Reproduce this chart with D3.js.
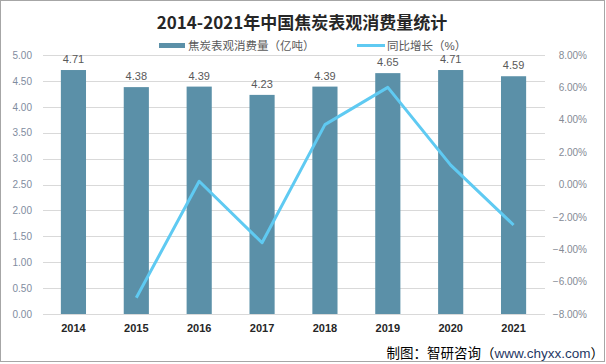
<!DOCTYPE html>
<html><head><meta charset="utf-8">
<script src="https://cdn.jsdelivr.net/npm/d3@7/dist/d3.min.js"></script>
<style>
html,body{margin:0;padding:0;background:#fff;}
svg{display:block;}
</style></head>
<body>
<svg id="chart" width="606" height="364"></svg>
<script>
const years = ["2014","2015","2016","2017","2018","2019","2020","2021"];
const consumption = [4.71,4.38,4.39,4.23,4.39,4.65,4.71,4.59];
const growth = [null,-7.0,0.2,-3.6,3.7,6.0,1.2,-2.5];
const leftTicks = [0,0.5,1,1.5,2,2.5,3,3.5,4,4.5,5];
const rightTicks = [-8,-6,-4,-2,0,2,4,6,8];
const title = "2014-2021年中国焦炭表观消费量统计";
const legendNames = ["焦炭表观消费量（亿吨）","同比增长（%）"];

const barColor = "#5b90a8", lineColor = "#5fcaf2";
const cjk = "'Liberation Sans','Noto Sans CJK SC',sans-serif";
const svg = d3.select("#chart");

svg.append("rect").attr("x",0.5).attr("y",0.5).attr("width",604).attr("height",361)
  .attr("fill","#fff").attr("stroke","#a6a6a6").attr("stroke-width",1);

const x = d3.scaleBand().domain(years).range([42,545]).paddingInner(0.6).paddingOuter(0.3);
const yL = d3.scaleLinear().domain([0,5]).range([314,55]);
const yR = d3.scaleLinear().domain([-8,8]).range([314,55]);

// gridlines
svg.append("g").selectAll("line").data(leftTicks).join("line")
  .attr("x1",43).attr("x2",545)
  .attr("y1",d=>Math.round(yL(d))+0.5).attr("y2",d=>Math.round(yL(d))+0.5)
  .attr("stroke","#d9d9d9").attr("stroke-width",1);

// left axis
const axL = svg.append("g").attr("transform","translate(32,0)")
  .call(d3.axisLeft(yL).tickValues(leftTicks).tickFormat(d3.format(".2f")).tickSize(0).tickPadding(0));
axL.select(".domain").remove();
axL.selectAll("text").attr("fill","#7f8ca0").style("font-family","'Liberation Sans',sans-serif").style("font-size","10px");

// right axis
const axR = svg.append("g").attr("transform","translate(587,0)")
  .call(d3.axisLeft(yR).tickValues(rightTicks).tickFormat(d=>d3.format(".2f")(d)+"%").tickSize(0).tickPadding(0));
axR.select(".domain").remove();
axR.selectAll("text").attr("fill","#858b95").style("font-family","'Liberation Sans',sans-serif").style("font-size","10px");

// x axis
const axX = svg.append("g").attr("transform","translate(0,318)")
  .call(d3.axisBottom(x).tickSize(0).tickPadding(6));
axX.select(".domain").remove();
axX.selectAll("text").attr("fill","#262626").style("font-family","'Liberation Sans',sans-serif")
  .style("font-size","11px").style("font-weight","bold");

// bars
svg.append("g").selectAll("rect").data(years).join("rect")
  .attr("x",d=>x(d)).attr("width",x.bandwidth())
  .attr("y",(d,i)=>yL(consumption[i])).attr("height",(d,i)=>yL(0)-yL(consumption[i]))
  .attr("fill",barColor);

// bar labels
svg.append("g").selectAll("text").data(years).join("text")
  .attr("x",d=>x(d)+x.bandwidth()/2).attr("y",(d,i)=>yL(consumption[i])-7)
  .attr("text-anchor","middle").attr("fill","#595959")
  .style("font-family","'Liberation Sans',sans-serif").style("font-size","11px")
  .text((d,i)=>consumption[i].toFixed(2));

// line
const pts = years.map((d,i)=>({d,v:growth[i]})).filter(p=>p.v!==null);
svg.append("path").datum(pts)
  .attr("d",d3.line().x(p=>x(p.d)+x.bandwidth()/2).y(p=>yR(p.v)))
  .attr("fill","none").attr("stroke",lineColor).attr("stroke-width",3).attr("stroke-linejoin","round");

// title
svg.append("text").attr("x",302).attr("y",29).attr("text-anchor","middle")
  .attr("fill","#262626").style("font-family","'Noto Sans CJK SC',sans-serif")
  .style("font-size","17px").style("font-weight","bold").text(title);

// legend
svg.append("rect").attr("x",159).attr("y",43).attr("width",26).attr("height",5).attr("fill",barColor);
svg.append("text").attr("x",188).attr("y",50).attr("fill","#595959")
  .style("font-family",cjk).style("font-size","11.5px").text(legendNames[0]);
svg.append("line").attr("x1",357).attr("x2",385).attr("y1",45.5).attr("y2",45.5)
  .attr("stroke",lineColor).attr("stroke-width",3);
svg.append("text").attr("x",387).attr("y",50).attr("fill","#595959")
  .style("font-family",cjk).style("font-size","11.5px").text(legendNames[1]);

// footer
const ft = svg.append("text").attr("x",604).attr("y",358).attr("text-anchor","end")
  .style("font-family","'Noto Sans CJK SC',sans-serif").style("font-size","13.5px").attr("fill","#000");
ft.append("tspan").text("制图：智研咨询（");
ft.append("tspan").attr("fill","#1f3864").style("font-family","'Liberation Sans',sans-serif").text("www.chyxx.com");
ft.append("tspan").text("）");
</script>
</body></html>
